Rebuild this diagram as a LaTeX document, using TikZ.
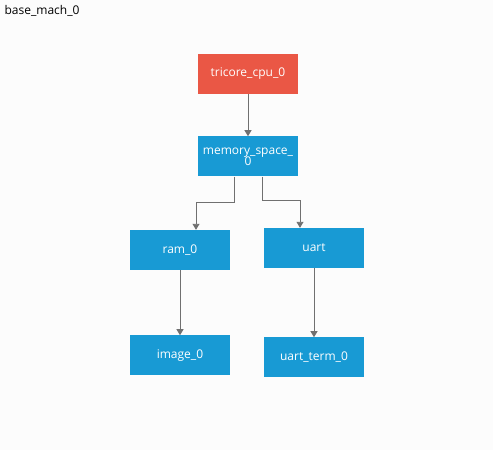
\documentclass[tikz,border=0pt]{standalone}
\usepackage{fontspec}
\setmainfont{Open Sans}
\usepackage{tikz}
\usetikzlibrary{arrows.meta,positioning}

\definecolor{cpured}{RGB}{234,87,69}
\definecolor{devblue}{RGB}{24,154,212}
\definecolor{linegray}{RGB}{112,112,112}
\definecolor{paper}{RGB}{252,252,252}

\begin{document}
\begin{tikzpicture}[
  x=1pt, y=-1pt,
  font=\fontsize{12}{14}\selectfont,
  node distance=42pt,
  dev/.style={fill=devblue, text=white, minimum width=100pt,
      minimum height=40pt, inner sep=2pt, align=center},
  cpu/.style={dev, fill=cpured},
  arrow/.style={-{Triangle[width=7pt,length=6pt]}, draw=linegray,
      line width=0.9pt}
]
\fill[paper] (0,0) rectangle (493,450);
\useasboundingbox (0,0) rectangle (493,450);
\node[anchor=west, font=\fontsize{12}{14}\selectfont] (title) at (1,11) {base\_mach\_0};
\node[cpu] (cpu) at (248,74) {tricore\_cpu\_0};
\node[dev, below=of cpu] (mem) {memory\_space\_\\[-3pt]0};
\node[dev] (ram) at (180,250) {ram\_0};
\node[dev] (uart) at (314,248) {uart};
\node[dev, below=65pt of ram] (image) {image\_0};
\node[dev, below=69pt of uart] (term) {uart\_term\_0};
\draw[arrow] (cpu) -- (mem);
\draw[arrow] ([xshift=-14pt]mem.south) -- ++(0,26) -| ([xshift=16pt]ram.north);
\draw[arrow] ([xshift=14pt]mem.south) -- ++(0,24) -| ([xshift=-14pt]uart.north);
\draw[arrow] (ram) -- (image);
\draw[arrow] (uart) -- (term);
\end{tikzpicture}
\end{document}
